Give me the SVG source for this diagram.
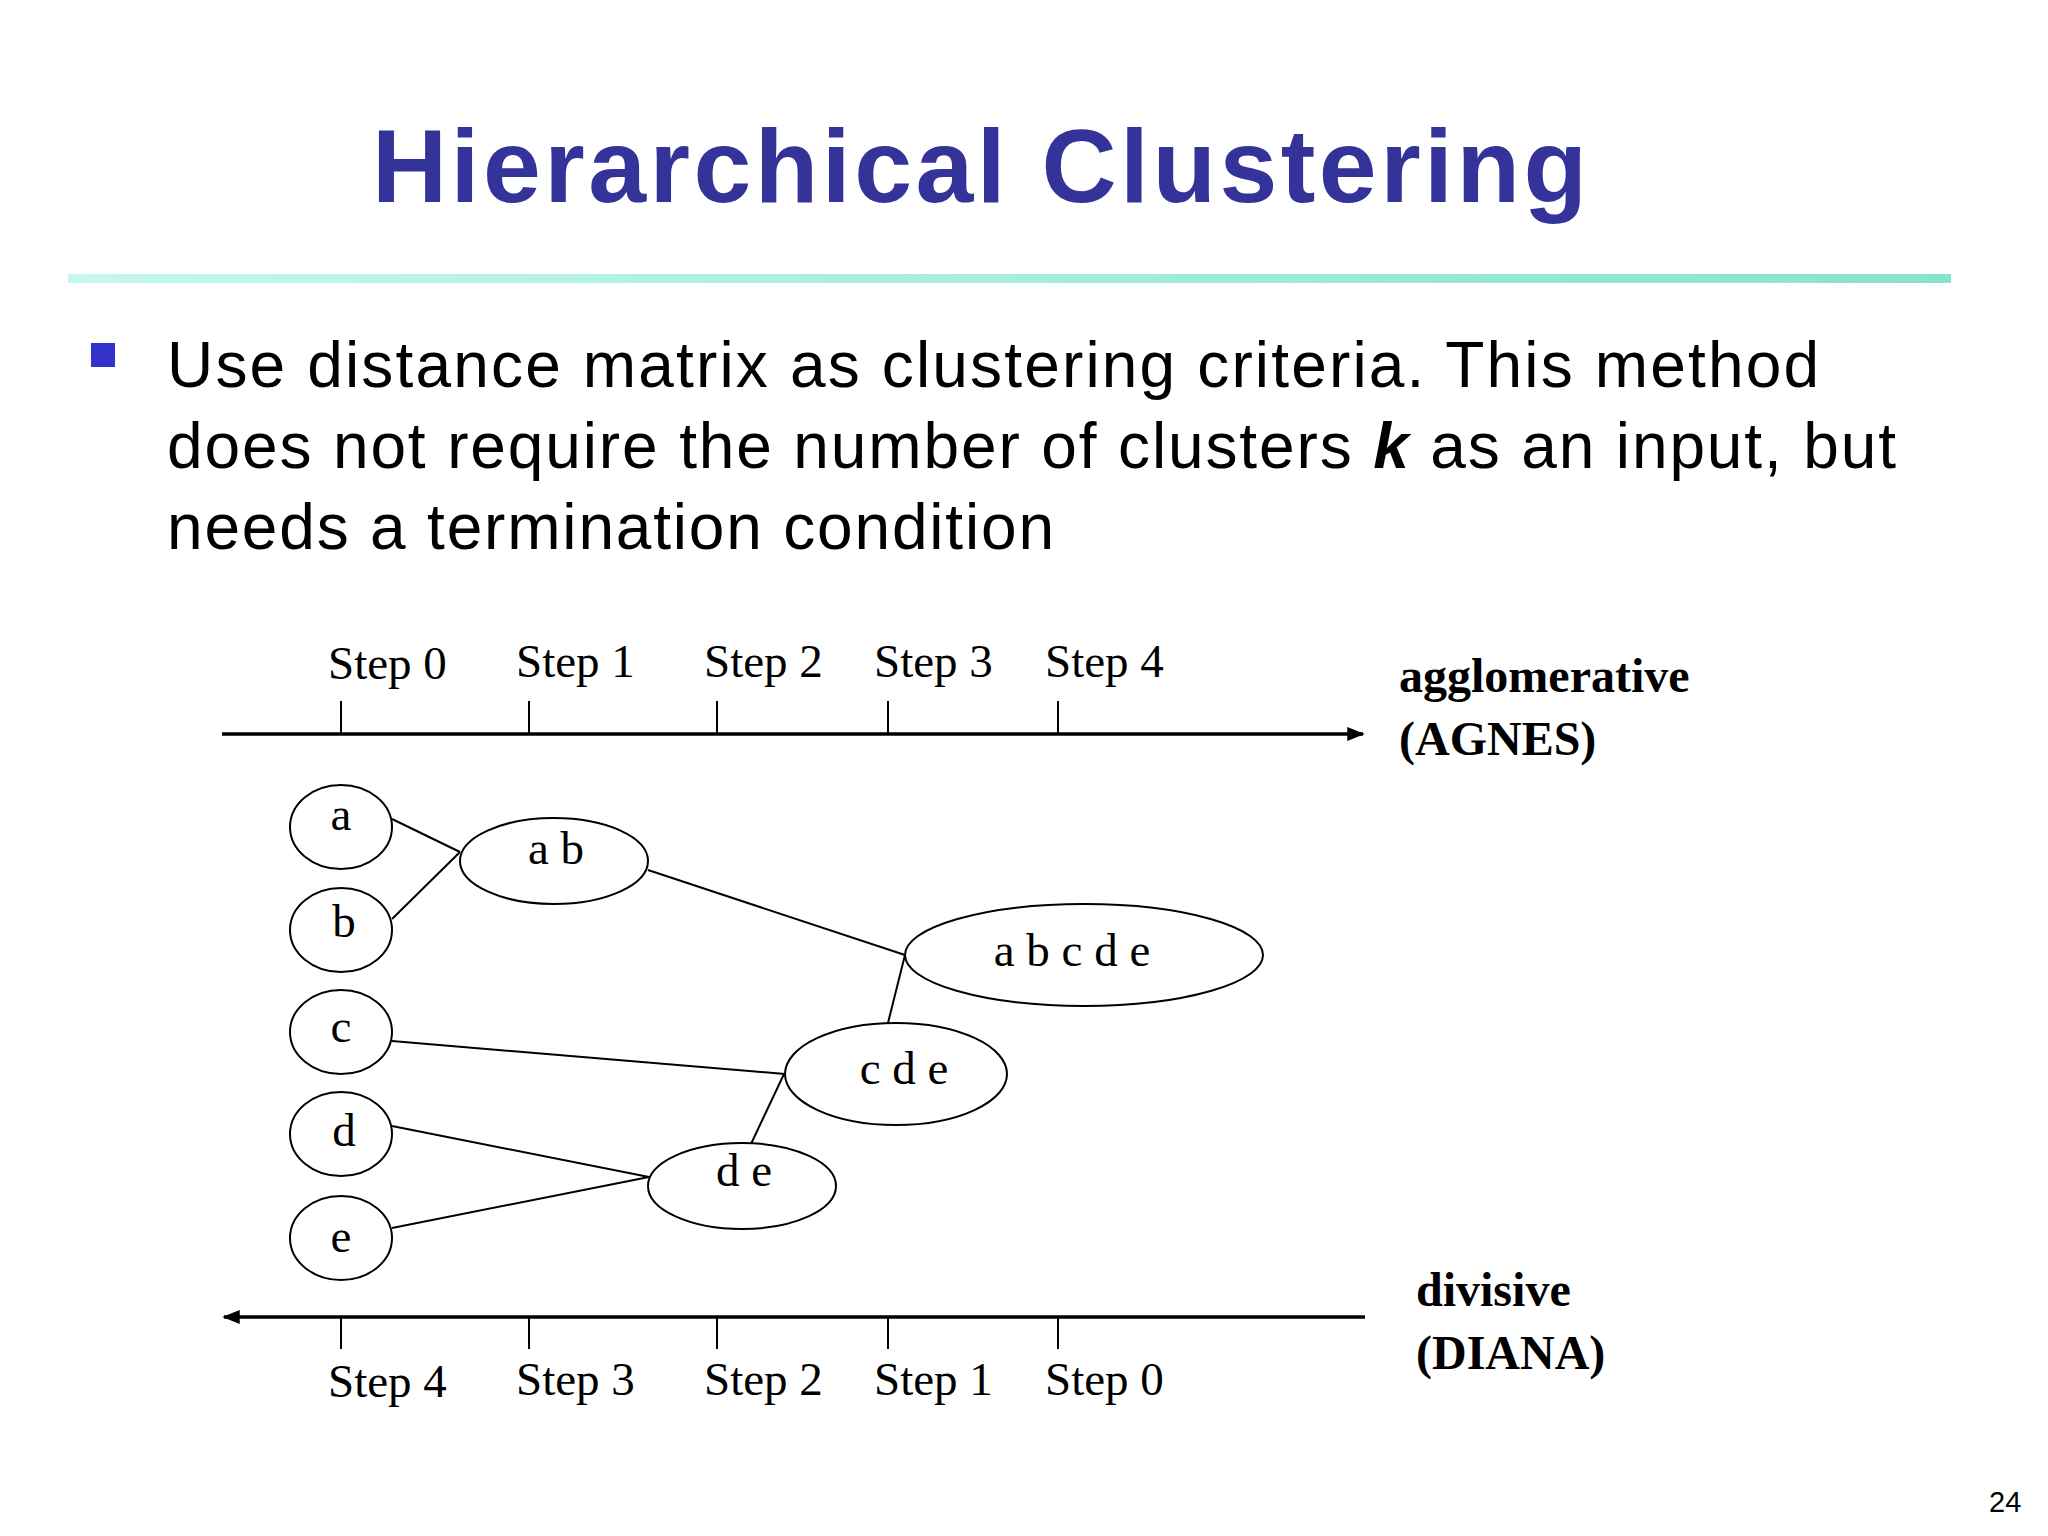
<svg xmlns="http://www.w3.org/2000/svg" width="2048" height="1536" viewBox="0 0 2048 1536">
<style>
.t{font-family:"Liberation Serif",serif;font-size:47px;fill:#000}
.b{font-family:"Liberation Serif",serif;font-size:48px;font-weight:bold;fill:#000}
.n{fill:#fff;stroke:#000;stroke-width:2}
.c line{stroke:#000;stroke-width:2}
.ax{stroke:#000;stroke-width:3.5}
.tk{stroke:#000;stroke-width:2}
.body{font-family:"Liberation Sans",sans-serif;font-size:64px;fill:#000}
</style>
<defs>
<linearGradient id="g" x1="0" x2="1"><stop offset="0" stop-color="#c4f7f0"/><stop offset="1" stop-color="#86e3cc"/></linearGradient>
<marker id="ar" viewBox="0 0 10 10" refX="9" refY="5" markerWidth="5" markerHeight="5" orient="auto"><path d="M0,1 L10,5 L0,9 z" fill="#000"/></marker>
</defs>
<rect width="2048" height="1536" fill="#fff"/>
<text x="372" y="202" font-family="Liberation Sans,sans-serif" font-weight="bold" font-size="104" fill="#333399" textLength="1215">Hierarchical Clustering</text>
<rect x="68" y="274" width="1883" height="9" fill="url(#g)"/>
<rect x="91" y="343" width="24" height="24" fill="#3333cc"/>
<text class="body" x="167" y="387" textLength="1652">Use distance matrix as clustering criteria.  This method</text>
<text class="body" x="167" y="468" textLength="1729">does not require the number of clusters <tspan font-weight="bold" font-style="italic">k</tspan> as an input, but</text>
<text class="body" x="167" y="549" textLength="887">needs a termination condition</text>
<g id="axis-top">
<line class="ax" x1="222" y1="734" x2="1363" y2="734" marker-end="url(#ar)"/>
<path class="tk" d="M341,701V734M529,701V734M717,701V734M888,701V734M1058,701V734"/>
<text class="t" x="328" y="679">Step 0</text><text class="t" x="516" y="677">Step 1</text><text class="t" x="704" y="677">Step 2</text><text class="t" x="874" y="677">Step 3</text><text class="t" x="1045" y="677">Step 4</text>
<text class="b" x="1399" y="692">agglomerative</text><text class="b" x="1399" y="755">(AGNES)</text>
</g>
<g id="axis-bottom">
<line class="ax" x1="1365" y1="1317" x2="224" y2="1317" marker-end="url(#ar)"/>
<path class="tk" d="M341,1317V1349M529,1317V1349M717,1317V1349M888,1317V1349M1058,1317V1349"/>
<text class="t" x="328" y="1397">Step 4</text><text class="t" x="516" y="1395">Step 3</text><text class="t" x="704" y="1395">Step 2</text><text class="t" x="874" y="1395">Step 1</text><text class="t" x="1045" y="1395">Step 0</text>
<text class="b" x="1416" y="1306">divisive</text><text class="b" x="1416" y="1369">(DIANA)</text>
</g>
<g id="connectors" class="c">
<line x1="392" y1="819" x2="460" y2="852"/><line x1="392" y1="919" x2="460" y2="852"/>
<line x1="648" y1="870" x2="905" y2="955"/><line x1="905" y1="955" x2="888" y2="1023"/>
<line x1="392" y1="1041" x2="785" y2="1074"/><line x1="784" y1="1074" x2="751" y2="1144"/>
<line x1="392" y1="1126" x2="649" y2="1177"/><line x1="392" y1="1228" x2="649" y2="1177"/>
</g>
<g id="a"><ellipse class="n" cx="341" cy="827" rx="51" ry="42"/><text class="t" x="341" y="830" text-anchor="middle">a</text></g>
<g id="b"><ellipse class="n" cx="341" cy="930" rx="51" ry="42"/><text class="t" x="344" y="937" text-anchor="middle">b</text></g>
<g id="c"><ellipse class="n" cx="341" cy="1032" rx="51" ry="42"/><text class="t" x="341" y="1042" text-anchor="middle">c</text></g>
<g id="d"><ellipse class="n" cx="341" cy="1134" rx="51" ry="42"/><text class="t" x="344" y="1146" text-anchor="middle">d</text></g>
<g id="e"><ellipse class="n" cx="341" cy="1238" rx="51" ry="42"/><text class="t" x="341" y="1252" text-anchor="middle">e</text></g>
<g id="ab"><ellipse class="n" cx="554" cy="861" rx="94" ry="43"/><text class="t" x="556" y="864" text-anchor="middle">a b</text></g>
<g id="abcde"><ellipse class="n" cx="1084" cy="955" rx="179" ry="51"/><text class="t" x="1072" y="966" text-anchor="middle">a b c d e</text></g>
<g id="cde"><ellipse class="n" cx="896" cy="1074" rx="111" ry="51"/><text class="t" x="904" y="1084" text-anchor="middle">c d e</text></g>
<g id="de"><ellipse class="n" cx="742" cy="1186" rx="94" ry="43"/><text class="t" x="744" y="1186" text-anchor="middle">d e</text></g>
<text x="1989" y="1512" font-family="Liberation Sans,sans-serif" font-size="29">24</text>
</svg>
